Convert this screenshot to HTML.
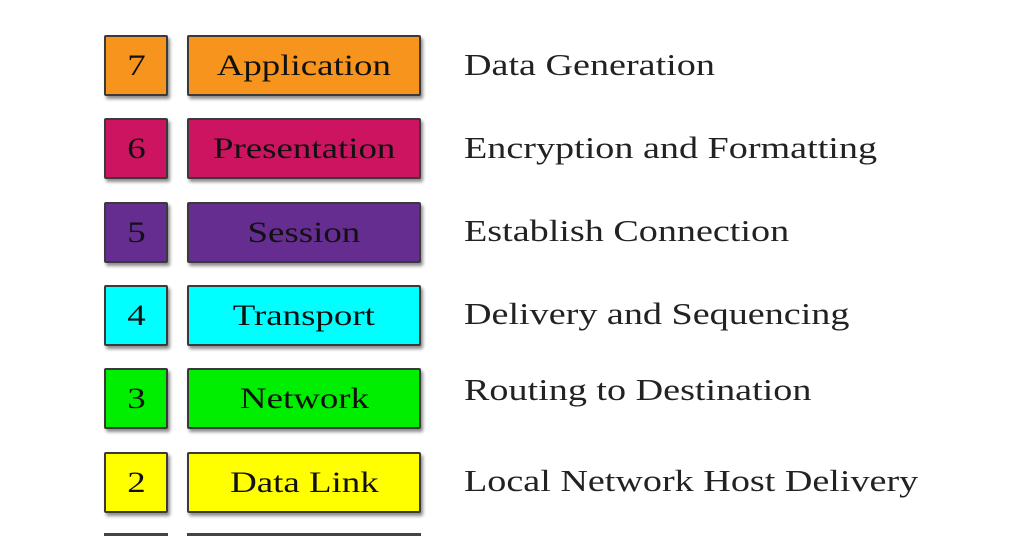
<!DOCTYPE html>
<html style="margin:0;width:1024px;height:536px;overflow:hidden"><head><style>
body{margin:0;width:1024px;height:536px;background:#fff;overflow:hidden;position:relative;font-family:"Liberation Serif",serif;}
.b{position:absolute;border:2px solid #3a3a3a;border-radius:2px;box-shadow:2px 3px 3px rgba(0,0,0,0.45);box-sizing:border-box;display:flex;align-items:center;justify-content:center;font-size:30px;color:#111;}
.b span{display:inline-block;transform:scaleX(1.23);}
.n{left:104px;width:64px;height:61px;}
.m{left:187px;width:234px;height:61px;}
.t{position:absolute;left:464px;font-size:31px;color:#222;line-height:36px;transform:scaleX(1.23);transform-origin:0 0;white-space:nowrap;}
.z{position:absolute;top:533px;height:3px;background:#444;}
</style></head><body>
<div class="b n" style="top:35px;background:#f7941d"><span>7</span></div><div class="b m" style="top:35px;background:#f7941d"><span>Application</span></div><div class="t" style="top:47px">Data Generation</div>
<div class="b n" style="top:118px;background:#cc1461"><span>6</span></div><div class="b m" style="top:118px;background:#cc1461"><span>Presentation</span></div><div class="t" style="top:130px">Encryption and Formatting</div>
<div class="b n" style="top:202px;background:#662d91"><span>5</span></div><div class="b m" style="top:202px;background:#662d91"><span>Session</span></div><div class="t" style="top:213px">Establish Connection</div>
<div class="b n" style="top:285px;background:#00ffff"><span>4</span></div><div class="b m" style="top:285px;background:#00ffff"><span>Transport</span></div><div class="t" style="top:296px">Delivery and Sequencing</div>
<div class="b n" style="top:368px;background:#00ee00"><span>3</span></div><div class="b m" style="top:368px;background:#00ee00"><span>Network</span></div><div class="t" style="top:372px">Routing to Destination</div>
<div class="b n" style="top:452px;background:#ffff00"><span>2</span></div><div class="b m" style="top:452px;background:#ffff00"><span>Data Link</span></div><div class="t" style="top:463px">Local Network Host Delivery</div>
<div class="z" style="left:104px;width:64px"></div><div class="z" style="left:187px;width:234px"></div>
</body></html>
